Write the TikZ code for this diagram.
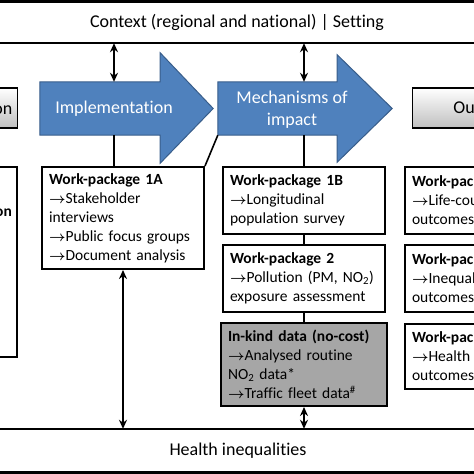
\documentclass[tikz,border=0pt]{standalone}
\usepackage{fontspec}
\setmainfont{Carlito}[Ligatures=NoCommon]
\usetikzlibrary{positioning,arrows.meta}
\tikzset{>={Stealth[length=9pt,width=8pt]}}
\definecolor{arrowblue}{RGB}{79,129,189}
\definecolor{arrowedge}{RGB}{56,93,138}
\newcommand{\wpto}{{\boldmath$\rightarrow$}}
\tikzset{
	% bands across the whole figure
	band/.style={minimum width=540pt,inner sep=0pt,font=\fontsize{18}{22}\selectfont},
	% work-package boxes
	wpbox/.style={draw=black,line width=2pt,fill=white,anchor=north west,text width=148pt,align=left,inner xsep=7pt,inner ysep=0pt,minimum height=#1,font=\fontsize{15.5}{19}\selectfont},
	% blue arrows
	arrowbody/.style={minimum height=53pt,inner sep=0pt},
	arrowlabel/.style={text=white,font=\fontsize{18}{22}\selectfont},
	% grey shaded boxes
	shadebox/.style={draw=black,line width=1.2pt,top color=white,bottom color=black!25,minimum height=40pt,inner xsep=5pt,font=\fontsize{18}{22}\selectfont},
	link/.style={line width=1.6pt},
}
\begin{document}
\begin{tikzpicture}[x=1pt,y=-1pt]
\useasboundingbox (0,0) rectangle (474,474);
% context and outcome bands
\node[band,minimum height=41pt] (context) at (237,22.5) {Context (regional and national) | Setting};
\draw[line width=3pt] (context.north west) -- (context.north east);
\draw[line width=1.5pt] (context.south west) -- (context.south east);
\node[band,minimum height=43pt] (health) at (238,450.5) {Health inequalities};
\draw[line width=1.5pt] (health.north west) -- (health.north east);
\draw[line width=3pt] (health.south west) -- (health.south east);
% the two blue arrows
\node[arrowbody,minimum width=120pt] (impl) at (100,108.5) {};
\filldraw[fill=arrowblue,draw=arrowedge,line width=1pt] (impl.north west) -- (impl.north east) -- ([yshift=29pt]impl.north east) -- ([xshift=53pt]impl.east) -- ([yshift=-28pt]impl.south east) -- (impl.south east) -- (impl.south west) -- cycle;
\node[arrowlabel] (impl-label) at ([xshift=14pt]impl.center) {Implementation};
\node[arrowbody,minimum width=119pt] (mech) at (277.5,108.5) {};
\filldraw[fill=arrowblue,draw=arrowedge,line width=1pt] (mech.north west) -- (mech.north east) -- ([yshift=27pt]mech.north east) -- ([xshift=55pt]mech.east) -- ([yshift=-27pt]mech.south east) -- (mech.south east) -- (mech.south west) -- cycle;
\node[arrowlabel,align=center] (mech-label) at ([xshift=14.5pt,yshift=-1pt]mech.center) {Mechanisms of\\impact};
% grey boxes at the sides
\node[shadebox,anchor=east] (intervention) at (18,108) {Intervention};
\node[shadebox,anchor=west,minimum width=156pt] (outcomes) at (412,108) {Outcomes};
% work packages
\node[wpbox=190pt,anchor=north east] (wp0) at (18,166) {};
\node[anchor=east,inner sep=0pt,font=\fontsize{15.5}{19}\selectfont\bfseries] (wp0-text) at (12,211) {Intervention};
\node[wpbox=102pt] (wp1a) at (41,166) {\textbf{Work-package 1A}\\\wpto Stakeholder\\interviews\\\wpto Public focus groups\\\wpto Document analysis};
\node[wpbox=67pt] (wp1b) at (222,166) {\textbf{Work-package 1B}\\\wpto Longitudinal\\population survey};
\node[wpbox=67pt] (wp2) at (222,244) {\textbf{Work-package 2}\\\wpto Pollution (PM, NO\textsubscript{2})\\exposure assessment};
\node[wpbox=83pt,text width=152pt,fill=black!35] (inkind) at (220,322) {\textbf{In-kind data (no-cost)}\\\wpto Analysed routine\\NO\textsubscript{2} data*\\\wpto Traffic fleet data\textsuperscript{\#}};
\node[wpbox=67pt] (wp3) at (404,166) {\textbf{Work-package 3}\\\wpto Life-course\\outcomes};
\node[wpbox=67pt] (wp4) at (404,244) {\textbf{Work-package 4}\\\wpto Inequalities\\outcomes};
\node[wpbox=65pt] (wp5) at (404,323) {\textbf{Work-package 5}\\\wpto Health\\outcomes};
% connectors
\draw[link,<->] (context.south -| impl-label) -- (impl.north -| impl-label);
\draw[link] (impl.south -| impl-label) -- (wp1a.north -| impl-label);
\draw[link,<->] (wp1a.south) -- (health.north -| wp1a.south);
\draw[link] (wp1a.north east) -- (mech.south west);
\draw[link,<->] (context.south -| wp1b.north) -- (mech.north -| wp1b.north);
\draw[link] (mech.south -| wp1b.north) -- (wp1b.north);
\draw[link] (wp1b.south) -- (wp2.north);
\draw[link] (wp2.south) -- (inkind.north);
\draw[link,<->] (inkind.south) -- (health.north -| inkind.south);
\end{tikzpicture}
\end{document}
